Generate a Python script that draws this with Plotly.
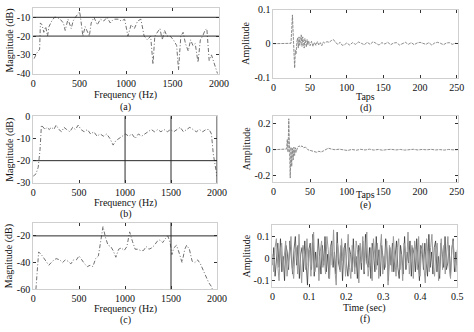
import numpy as np
import plotly.graph_objects as go

W, H = 474, 332

# ---------- data ----------
a_freq = [10, 40, 70, 78, 95, 115, 135, 155, 170, 200, 230, 255, 290, 325, 345, 375, 410, 430, 455, 480,
          500, 510, 525, 535, 560, 585, 605, 625, 655, 690, 725, 760, 795, 830, 865, 915, 950, 985, 1020, 1055,
          1090, 1125, 1160, 1195, 1230, 1265, 1290, 1310, 1335, 1365, 1390, 1415, 1440, 1475, 1510, 1545, 1565, 1590, 1615, 1640,
          1670, 1695, 1720, 1745, 1775, 1800, 1825, 1850, 1870, 1895, 1920, 1950, 1985]
a_db = [-32, -29, -27, -13, -14, -18, -15, -20, -15, -12, -10, -10, -11, -13, -17, -11, -16, -12, -10, -8,
        -7, -10, -15, -20, -15, -18, -20, -13, -10, -14, -11, -12, -10, -13, -11, -11, -12, -11, -20, -14,
        -16, -12, -11, -20, -22, -20, -35, -20, -18, -16, -22, -17, -20, -20, -22, -25, -38, -20, -18, -24,
        -28, -22, -25, -24, -34, -22, -20, -17, -16, -33, -30, -35, -40]
a_hlines = [-10, -20]

b_freq = [0, 30, 55, 75, 90, 110, 130, 150, 175, 200, 225, 250, 280, 310, 335, 365, 400, 430, 460, 490,
          520, 555, 590, 625, 660, 695, 730, 765, 800, 835, 870, 900, 935, 970, 1005, 1040, 1075, 1110, 1145, 1180,
          1215, 1250, 1285, 1320, 1355, 1390, 1425, 1460, 1495, 1530, 1565, 1600, 1635, 1670, 1705, 1740, 1775, 1810, 1845, 1880,
          1915, 1940, 1960, 1980, 2000]
b_db = [-27, -26, -23, -15, -4, -5, -6, -5, -6, -5, -6, -4, -6, -7, -5, -6, -7, -5, -6, -4,
        -6, -7, -6, -8, -7, -9, -8, -9, -8, -10, -13, -11, -10, -9, -8, -9, -8, -10, -8, -9,
        -8, -7, -6, -7, -6, -7, -6, -7, -6, -7, -6, -5, -7, -6, -5, -6, -7, -6, -7, -6,
        -6, -8, -17, -22, -27]
b_hlines = [-20]
b_vlines = [1000, 1500, 2000]

c_freq = [30, 45, 60, 100, 140, 170, 210, 250, 290, 320, 350, 380, 410, 440, 470, 500, 530, 560, 590, 620,
          650, 680, 710, 735, 760, 790, 815, 845, 870, 900, 930, 960, 990, 1020, 1050, 1080, 1110, 1140, 1170, 1200,
          1230, 1260, 1290, 1320, 1350, 1380, 1410, 1440, 1465, 1490, 1510, 1530, 1560, 1590, 1620, 1650, 1670, 1700, 1730, 1760,
          1790, 1820, 1850, 1880, 1910, 1940, 1955]
c_db = [-60, -45, -32, -35, -39, -42, -39, -37, -38, -40, -38, -39, -41, -38, -38, -35, -38, -41, -43, -42,
        -43, -37, -35, -22, -13, -22, -27, -28, -31, -36, -30, -29, -31, -28, -17, -24, -30, -30, -31, -31,
        -28, -30, -29, -27, -24, -23, -25, -22, -20, -25, -34, -29, -27, -33, -40, -30, -27, -30, -39, -40,
        -38, -41, -46, -50, -55, -58, -61]
c_hlines = [-20]
c_vlines = [1500]

d_taps = [0, 10, 20, 24, 25, 26, 27, 28, 29, 30, 31, 32, 33, 34, 35, 36, 37, 38, 39, 40,
          41, 42, 43, 44, 45, 46, 47, 48, 50, 52, 54, 56, 58, 60, 62, 64, 66, 68, 70, 73,
          76, 79, 82, 85, 88, 91, 94, 97, 100, 104, 108, 112, 116, 120, 124, 128, 132, 136, 140, 144,
          148, 152, 156, 160, 164, 168, 172, 176, 180, 184, 188, 192, 196, 200, 204, 208, 212, 216, 220, 224,
          228, 232, 236, 240, 244, 248, 252]
d_amp = [0, 0, 0, 0.001, 0.04, 0.085, 0.03, -0.04, -0.072, -0.02, -0.03, 0.005, 0.017, -0.013, 0.02, -0.005, 0.01, 0.026, -0.008, 0.02,
         0.005, -0.013, 0.015, 0.002, -0.01, 0.012, -0.004, 0.008, -0.006, 0.007, -0.008, 0.004, -0.005, 0.006, -0.004, 0.003, -0.006, 0.005, 0.002, 0.006,
         0.004, 0.009, 0.012, 0.003, -0.002, 0.004, -0.005, -0.003, 0.002, -0.004, 0.003, -0.002, 0.005, 0.001, -0.003, 0.004, -0.002, 0.006, 0.002, -0.004,
         0.003, -0.001, 0.004, -0.003, 0.002, 0.003, -0.004, 0.001, 0.004, -0.002, 0.003, -0.003, 0.002, 0.004, 0.001, -0.002, 0.003, -0.004, 0.002, 0.004,
         0.001, -0.003, 0.002, 0.003, -0.002, 0.001, 0.0]

e_taps = [0, 8, 16, 18, 19, 20, 21, 22, 23, 24, 25, 26, 27, 28, 29, 30, 31, 33, 35, 37,
          39, 41, 44, 47, 50, 53, 56, 59, 62, 65, 68, 71, 75, 79, 84, 90, 95, 101, 107, 113,
          119, 125, 131, 137, 143, 149, 155, 161, 167, 173, 179, 185, 191, 197, 203, 209, 215, 221, 227, 233,
          239, 245, 251]
e_amp = [0, 0, 0, 0.005, 0.08, -0.02, 0.24, 0.05, -0.22, 0.02, -0.13, 0.01, -0.08, 0.02, -0.045, 0.015, -0.02, 0.018, 0.03, 0.02,
         0.03, 0.015, 0.02, 0.0, -0.005, -0.008, -0.015, -0.02, -0.012, -0.018, -0.01, 0.0, 0.012, 0.005, 0.0, 0.004, -0.003, -0.006, 0.002, -0.004,
         0.003, -0.002, 0.004, -0.003, 0.002, -0.004, 0.001, 0.003, -0.002, 0.002, -0.003, 0.001, 0.003, -0.002, 0.002, -0.001, 0.003, -0.002, 0.001, -0.003,
         0.002, -0.001, 0.0]

f_gray = [0.02, -0.06, 0.05, 0.09, -0.03, -0.1, 0.04, 0.07, -0.05, 0.01, 0.08, -0.08, -0.02, 0.06, 0.1, -0.04, -0.09, 0.03, 0.05, -0.07,
          0.11, -0.01, -0.11, 0.06, 0.02, -0.05, 0.09, -0.03, 0.04, -0.08, 0.07, 0.12, -0.06, -0.02, 0.05, -0.1, 0.03, 0.08, -0.04, 0.01,
          -0.07, 0.1, 0.04, -0.09, 0.06, -0.03, 0.13, -0.05, -0.12, 0.07, 0.02, -0.06, 0.09, -0.01, 0.05, -0.08, 0.03, 0.11, -0.04, -0.09,
          0.06, 0.01, -0.07, 0.08, 0.04, -0.11, 0.07, -0.02, 0.1, -0.06, 0.03, 0.12, -0.08, -0.03, 0.05, -0.1, 0.09, 0.02, -0.05, 0.07,
          -0.09, 0.04, 0.11, -0.07, 0.01, -0.04, 0.08, -0.12, 0.06, 0.03, -0.06, 0.1, -0.02, -0.08, 0.05, 0.09, -0.05, 0.02, -0.1, 0.07,
          0.04, -0.03, 0.12, -0.07, -0.01, 0.06, -0.09, 0.08, 0.03, -0.05, 0.1, -0.08, 0.02, 0.07, -0.04, -0.11, 0.09, 0.01, -0.06, 0.05,
          0.11, -0.03, -0.08, 0.04, 0.07, -0.1, 0.02, 0.09, -0.05, 0.06, -0.07, 0.03, 0.1, -0.04, -0.09, 0.05, 0.08, -0.02, -0.06, 0.04]
f_black = [-0.03, 0.05, -0.08, 0.02, 0.07, -0.04, 0.09, -0.06, 0.01, -0.1, 0.06, 0.03, -0.05, 0.08, -0.02, -0.07, 0.04, 0.1, -0.03, 0.06,
           -0.09, 0.02, 0.05, -0.06, 0.08, -0.01, -0.12, 0.04, 0.07, -0.05, 0.11, -0.08, 0.03, -0.04, 0.09, 0.01, -0.07, 0.06, -0.03, 0.1,
           -0.06, 0.02, -0.09, 0.05, 0.08, -0.04, 0.03, -0.07, 0.12, -0.02, -0.05, 0.06, -0.1, 0.04, 0.07, -0.03, -0.08, 0.05, 0.02, -0.06,
           0.09, -0.04, 0.01, -0.09, 0.06, 0.03, -0.05, 0.08, -0.07, 0.11, -0.02, -0.04, 0.05, -0.09, 0.07, 0.02, -0.06, 0.1, -0.03, 0.04,
           -0.08, 0.06, -0.01, -0.05, 0.09, 0.03, -0.1, 0.05, -0.03, 0.07, -0.06, 0.02, 0.08, -0.04, -0.09, 0.06, 0.01, -0.07, 0.1, -0.05,
           0.03, -0.02, 0.08, -0.08, 0.05, 0.02, -0.06, 0.09, -0.03, -0.1, 0.06, 0.04, -0.05, 0.07, -0.02, -0.08, 0.11, -0.04, 0.03, -0.07,
           0.05, 0.08, -0.06, 0.01, -0.09, 0.07, 0.02, -0.04, 0.1, -0.05, -0.02, 0.06, -0.08, 0.04, 0.09, -0.06, 0.03, -0.03]
f_duration = 0.5

freq_ticks = [0, 500, 1000, 1500, 2000]
tap_ticks = [0, 50, 100, 150, 200, 250]
time_ticks = [0, 0.1, 0.2, 0.3, 0.4, 0.5]
time_labels = ["0", "0.1", "0.2", "0.3", "0.4", "0.5"]

# ---------- figure ----------
FONT = "Liberation Serif, Times New Roman, serif"
CURVE = "#707070"
REF = "#2a2a2a"
FRAME = "#cfcfcf"

def px_x(p):
    return p / W

def px_y(p):
    return 1 - p / H

panels = {
    "a": ((31, 222), (3, 71)),
    "b": ((31, 220), (115, 184)),
    "c": ((31, 220), (225, 294)),
    "d": ((278, 468), (5, 75)),
    "e": ((278, 468), (115, 183)),
    "f": ((277, 467), (228, 292)),
}
order = ["a", "d", "b", "e", "c", "f"]
axid = {k: i + 1 for i, k in enumerate(order)}

fig = go.Figure()

def ax_names(k):
    n = axid[k]
    s = "" if n == 1 else str(n)
    return "x" + s, "y" + s, "xaxis" + s, "yaxis" + s

def add_line(k, x, y, color, dash, width=1):
    xa, ya, _, _ = ax_names(k)
    fig.add_trace(go.Scatter(x=x, y=y, mode="lines", xaxis=xa, yaxis=ya,
                             line=dict(color=color, width=width, dash=dash),
                             showlegend=False, hoverinfo="skip"))

add_line("a", a_freq, a_db, CURVE, "4px,2px,1px,2px")
add_line("b", b_freq, b_db, CURVE, "4px,2px,1px,2px")
add_line("c", c_freq, c_db, CURVE, "4px,2px,1px,2px")
add_line("d", d_taps, d_amp, "#808080", "3px,1px", 0.9)
add_line("e", e_taps, e_amp, "#808080", "3px,1px", 0.9)
add_line("f", list(np.linspace(0, f_duration, len(f_black))), f_black, "#2a2a2a", "solid", 0.7)
add_line("f", list(np.linspace(0, f_duration, len(f_gray))), f_gray, "#9a9a9a", "solid", 1)

axis_cfg = {
    "a": dict(xr=[0, 2000], yr=[-40, -5], xt=freq_ticks, xl=[str(v) for v in freq_ticks],
              yt=[-40, -30, -20, -10], yl=["-40", "-30", "-20", "-10"]),
    "b": dict(xr=[0, 2000], yr=[-30, 0], xt=freq_ticks, xl=[str(v) for v in freq_ticks],
              yt=[-30, -20, -10, 0], yl=["-30", "-20", "-10", "0"]),
    "c": dict(xr=[0, 2000], yr=[-60, -10], xt=freq_ticks, xl=[str(v) for v in freq_ticks],
              yt=[-60, -40, -20], yl=["-60", "-40", "-20"]),
    "d": dict(xr=[0, 252], yr=[-0.1, 0.1], xt=tap_ticks, xl=[str(v) for v in tap_ticks],
              yt=[-0.1, 0, 0.1], yl=["-0.1", "0", "0.1"]),
    "e": dict(xr=[0, 252], yr=[-0.25, 0.26], xt=tap_ticks, xl=[str(v) for v in tap_ticks],
              yt=[-0.2, 0, 0.2], yl=["-0.2", "0", "0.2"]),
    "f": dict(xr=[0, 0.5], yr=[-0.13, 0.15], xt=time_ticks, xl=time_labels,
              yt=[-0.1, 0, 0.1], yl=["-0.1", "0", "0.1"]),
}

layout_axes = {}
for k in order:
    xa, ya, xkey, ykey = ax_names(k)
    (x0, x1), (yt, yb) = panels[k]
    cfg = axis_cfg[k]
    common = dict(showgrid=False, zeroline=False, showline=True, linecolor=FRAME, linewidth=1,
                  mirror="ticks", ticks="inside", ticklen=3, tickcolor="#333", tickwidth=1,
                  tickfont=dict(family=FONT, size=10, color="#111"), fixedrange=True)
    layout_axes[xkey] = dict(common, domain=[px_x(x0), px_x(x1)], range=cfg["xr"],
                             tickvals=cfg["xt"], ticktext=cfg["xl"], anchor=ya)
    layout_axes[ykey] = dict(common, domain=[px_y(yb), px_y(yt)], range=cfg["yr"],
                             tickvals=cfg["yt"], ticktext=cfg["yl"], anchor=xa)
fig.update_layout(**layout_axes)

shapes = []
def hlines(k, vals):
    xa, ya, _, _ = ax_names(k)
    for v in vals:
        shapes.append(dict(type="line", xref=xa + " domain", yref=ya, x0=0, x1=1, y0=v, y1=v,
                           line=dict(color=REF, width=1)))

def vlines(k, vals):
    xa, ya, _, _ = ax_names(k)
    for v in vals:
        shapes.append(dict(type="line", xref=xa, yref=ya + " domain", x0=v, x1=v, y0=0, y1=1,
                           line=dict(color=REF, width=1)))

hlines("a", a_hlines)
hlines("b", b_hlines)
vlines("b", b_vlines)
hlines("c", c_hlines)
vlines("c", c_vlines)

annotations = []
def text(t, x, y, angle=0, size=10):
    annotations.append(dict(text=t, x=px_x(x), y=px_y(y), xref="paper", yref="paper",
                            showarrow=False, textangle=angle, xanchor="center", yanchor="middle",
                            font=dict(family=FONT, size=size, color="#111")))

text("Frequency (Hz)", 126, 93)
text("(a)", 126, 105)
text("Frequency (Hz)", 126, 205)
text("(b)", 126, 216)
text("Frequency (Hz)", 126, 314)
text("(c)", 126, 326)
text("Taps", 373, 95)
text("(d)", 373, 107)
text("Taps", 373, 196)
text("(e)", 373, 207)
text("Time (sec)", 372, 313)
text("(f)", 372, 325)
text("Magnitude (dB)", 7, 37, -90)
text("Magnitude (dB)", 7, 150, -90)
text("Magnitude (dB)", 7, 260, -90)
text("Amplitude", 250, 40, -90)
text("Amplitude", 250, 149, -90)
text("Amplitude", 250, 260, -90)

fig.update_layout(width=W, height=H, margin=dict(l=0, r=0, t=0, b=0),
                  paper_bgcolor="white", plot_bgcolor="white",
                  shapes=shapes, annotations=annotations, showlegend=False)

fig.write_html("out.html", config={"displayModeBar": False})
